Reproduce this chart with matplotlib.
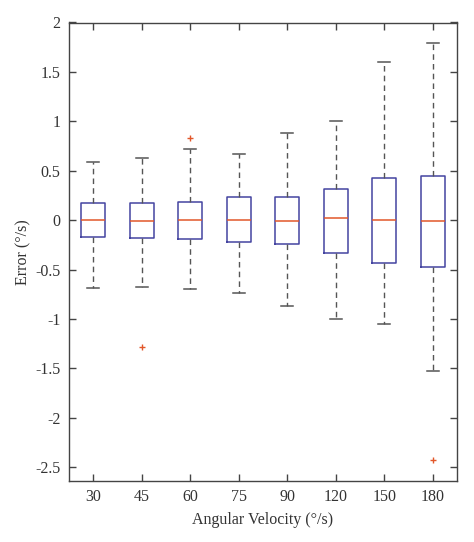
import matplotlib
matplotlib.use("Agg")
import matplotlib.pyplot as plt

categories = ["30", "45", "60", "75", "90", "120", "150", "180"]
whisker_high = [0.59, 0.63, 0.72, 0.67, 0.88, 1.00, 1.60, 1.79]
q3 = [0.17, 0.17, 0.18, 0.23, 0.23, 0.32, 0.43, 0.45]
median = [0.00, -0.01, 0.00, 0.00, -0.01, 0.02, 0.00, -0.01]
q1 = [-0.17, -0.18, -0.19, -0.22, -0.24, -0.33, -0.43, -0.47]
whisker_low = [-0.69, -0.68, -0.70, -0.74, -0.87, -1.00, -1.05, -1.53]
outliers = [[], [-1.28], [0.83], [], [], [], [], [-2.43]]

plt.rcParams['font.family'] = ['Liberation Serif', 'DejaVu Serif']

fig = plt.figure(figsize=(4.74, 5.42), dpi=100)
ax = fig.add_axes([69/474, 1-481/542, (457-69)/474, (481-22.5)/542])

stats = []
for i, c in enumerate(categories):
    stats.append(dict(label=c, med=median[i], q1=q1[i], q3=q3[i],
                      whislo=whisker_low[i], whishi=whisker_high[i],
                      fliers=outliers[i]))

box_col = '#4444a0'
med_col = '#e2572a'
grey = '#555555'
positions = list(range(1, len(categories) + 1))
ax.bxp(stats, positions=positions, widths=0.5, capwidths=0.25,
       boxprops=dict(color=box_col, linewidth=1.1),
       medianprops=dict(color=med_col, linewidth=1.1),
       whiskerprops=dict(color=grey, linewidth=1.0, linestyle=(0, (4, 3))),
       capprops=dict(color=grey, linewidth=1.1),
       flierprops=dict(marker='+', markeredgecolor=med_col, markersize=5,
                       markeredgewidth=1.0, linestyle='none'))

ax.set_xlim(0.5, 8.5)
ax.set_ylim(-2.64, 2.0)
ax.set_yticks([2, 1.5, 1, 0.5, 0, -0.5, -1, -1.5, -2, -2.5])
ax.set_yticklabels(['2', '1.5', '1', '0.5', '0', '-0.5', '-1', '-1.5', '-2', '-2.5'])
ax.set_xticks(positions)
ax.set_xticklabels(categories)
ax.tick_params(direction='in', top=True, right=True, length=5, width=1.0,
               color='#444444', labelsize=11.5, labelcolor='#333333', pad=6)
for s in ax.spines.values():
    s.set_color('#444444')
    s.set_linewidth(1.0)
ax.set_xlabel('Angular Velocity (°/s)', fontsize=11.5, color='#333333', labelpad=5)
ax.set_ylabel('Error (°/s)', fontsize=11.5, color='#333333', labelpad=3)

fig.savefig('out.png', dpi=100)
